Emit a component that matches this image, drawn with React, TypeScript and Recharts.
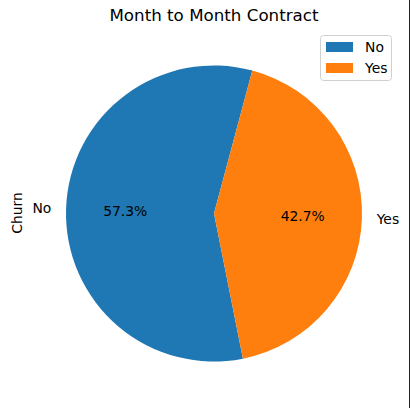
import { PieChart, Pie, Cell, Legend, Customized } from 'recharts';

const categories = ['No', 'Yes'];
const shares = [57.3, 42.7];
const COLORS = ['#1f77b4', '#ff7f0e'];

const FONT = '"DejaVu Sans", sans-serif';
const RAD = Math.PI / 180;

const data = categories.map((name, i) => ({ name, value: shares[i] }));

const renderLabel = (props: any) => {
    const { cx, cy, midAngle, outerRadius, percent, name } = props;
    const cos = Math.cos(-midAngle * RAD);
    const sin = Math.sin(-midAngle * RAD);
    const lx = cx + outerRadius * 1.1 * cos;
    const ly = cy + outerRadius * 1.1 * sin;
    const px = cx + outerRadius * 0.6 * cos;
    const py = cy + outerRadius * 0.6 * sin;
    return (
        <g>
            <text x={lx} y={ly} textAnchor={cos >= 0 ? 'start' : 'end'} dominantBaseline="central"
                fontSize={13.9} fontFamily={FONT} fill="#000">{name}</text>
            <text x={px} y={py} textAnchor="middle" dominantBaseline="central"
                fontSize={13.9} fontFamily={FONT} fill="#000">{`${(percent * 100).toFixed(1)}%`}</text>
        </g>
    );
};

const LegendBox = (props: any) => {
    const payload = props.payload || [];
    return (
        <svg width={73} height={47} style={{ display: 'block' }}>
            <rect x={0.5} y={0.5} width={71} height={45} rx={3} fill="#fff" fillOpacity={0.8} stroke="#d0d0d0" />
            {payload.map((entry: any, i: number) => (
                <g key={entry.value}>
                    <rect x={6} y={7 + i * 21} width={27} height={10} fill={entry.color} />
                    <text x={45} y={12 + i * 21} dominantBaseline="central" fontSize={13.9}
                        fontFamily={FONT} fill="#000">{entry.value}</text>
                </g>
            ))}
        </svg>
    );
};

const Titles = () => (
    <g>
        <text x={214} y={15} textAnchor="middle" dominantBaseline="central" fontSize={16.7}
            fontFamily={FONT} fill="#000">Month to Month Contract</text>
        <text x={17} y={213} textAnchor="middle" dominantBaseline="central" fontSize={13.9}
            fontFamily={FONT} fill="#000" transform="rotate(-90 17 213)">Churn</text>
    </g>
);

export default function App() {
    return (
        <div style={{ position: 'absolute', left: 0, top: 0, width: 410, height: 408, background: '#fff',
            boxSizing: 'border-box', borderRight: '1px solid #222' }}>
            <PieChart width={409} height={408} margin={{ top: 0, right: 0, bottom: 0, left: 0 }}>
                <Pie
                    data={data}
                    dataKey="value"
                    nameKey="name"
                    cx={214}
                    cy={213.5}
                    outerRadius={148}
                    startAngle={75}
                    endAngle={435}
                    stroke="none"
                    labelLine={false}
                    label={renderLabel}
                    isAnimationActive={false}
                >
                    {data.map((entry, index) => (
                        <Cell key={`cell-${entry.name}`} fill={COLORS[index % COLORS.length]} />
                    ))}
                </Pie>
                <Legend content={LegendBox} wrapperStyle={{ position: 'absolute', left: 320, top: 35, width: 73, height: 47 }} />
                <Customized component={Titles} />
            </PieChart>
        </div>
    );
}
